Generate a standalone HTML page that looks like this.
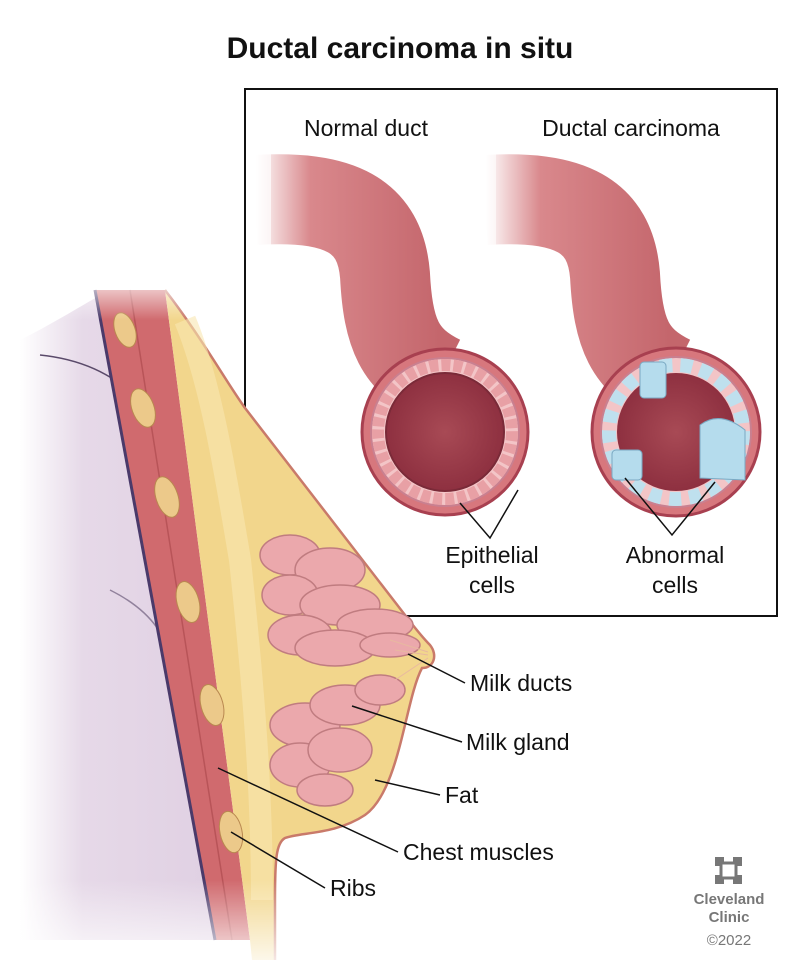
<!DOCTYPE html>
<html><head><meta charset="utf-8"><style>
body{margin:0;background:#fff;}
svg{display:block;font-family:"Liberation Sans",Arial,sans-serif;}
</style></head><body>
<svg width="800" height="978" viewBox="0 0 800 978" xmlns="http://www.w3.org/2000/svg">
<defs>
<linearGradient id="fadeL" x1="0" x2="1" y1="0" y2="0">
<stop offset="0" stop-color="#fff"/><stop offset="0.3" stop-color="#e6d9e8"/><stop offset="1" stop-color="#dfcfe2"/></linearGradient>
<linearGradient id="fadeT" x1="0" x2="0" y1="0" y2="1">
<stop offset="0" stop-color="#fff" stop-opacity="1"/><stop offset="1" stop-color="#fff" stop-opacity="0"/></linearGradient>
<linearGradient id="fadeB" x1="0" x2="0" y1="0" y2="1">
<stop offset="0" stop-color="#fff" stop-opacity="0"/><stop offset="1" stop-color="#fff" stop-opacity="1"/></linearGradient>
<linearGradient id="tubeFade" x1="0" x2="1" y1="0" y2="0">
<stop offset="0" stop-color="#fff"/><stop offset="0.3" stop-color="#d9888c"/><stop offset="1" stop-color="#c4666c"/></linearGradient>
<radialGradient id="lumen" cx="0.5" cy="0.5" r="0.5"><stop offset="0" stop-color="#a84a55"/><stop offset="1" stop-color="#8e3040"/></radialGradient>
</defs>

<text x="400" y="58" text-anchor="middle" font-size="30" font-weight="bold" fill="#111">Ductal carcinoma in situ</text>

<rect x="245" y="89" width="532" height="527" fill="#fff" stroke="#111" stroke-width="2"/>
<text x="366" y="136" text-anchor="middle" font-size="23" fill="#111">Normal duct</text>
<text x="631" y="136" text-anchor="middle" font-size="23" fill="#111">Ductal carcinoma</text>

<path d="M255 200 C340 195 380 215 385 275 C388 335 400 360 440 380" fill="none" stroke="url(#tubeFade)" stroke-width="90"/>
<path d="M485 200 C570 195 610 215 615 275 C618 335 630 360 670 380" fill="none" stroke="url(#tubeFade)" stroke-width="90"/>
<rect x="246" y="150" width="25" height="100" fill="#fff" opacity="0.7"/>
<rect x="476" y="150" width="20" height="100" fill="#fff" opacity="0.6"/>

<g>
<circle cx="445" cy="432" r="83" fill="#d7777d" stroke="#a84050" stroke-width="3"/>
<circle cx="445" cy="432" r="74" fill="#f3c5c7" stroke="#c98090" stroke-width="2"/>
<circle cx="445" cy="432" r="67" fill="none" stroke="#e8a0a5" stroke-width="12" stroke-dasharray="9 3"/>
<circle cx="445" cy="432" r="59" fill="url(#lumen)" stroke="#7a2a38" stroke-width="2"/>
</g>
<g>
<circle cx="676" cy="432" r="84" fill="#d7777d" stroke="#a84050" stroke-width="3"/>
<circle cx="676" cy="432" r="75" fill="#f3c5c7" stroke="#c98090" stroke-width="2"/>
<circle cx="676" cy="432" r="67" fill="none" stroke="#bfe0ee" stroke-width="14" stroke-dasharray="12 8"/>
<circle cx="676" cy="432" r="59" fill="url(#lumen)"/>
<g fill="#b5dced" stroke="#7aa9c3" stroke-width="1">
<rect x="640" y="362" width="26" height="36" rx="4"/>
<path d="M700 425 Q720 410 745 430 L745 480 L700 478 Z"/>
<rect x="612" y="450" width="30" height="30" rx="4"/>
</g>
</g>
<g stroke="#111" stroke-width="1.5" fill="none">
<path d="M460 503 L490 538 L518 490"/>
<path d="M625 478 L672 535 L715 482"/>
</g>
<g font-size="23" fill="#111" text-anchor="middle">
<text x="492" y="563">Epithelial</text><text x="492" y="593">cells</text>
<text x="675" y="563">Abnormal</text><text x="675" y="593">cells</text>
</g>

<path d="M20 340 C60 320 90 300 110 290 L230 940 L20 940 Z" fill="url(#fadeL)"/>
<path d="M40 355 C90 360 115 380 130 390" stroke="#5a4a6a" stroke-width="1.5" fill="none"/>
<path d="M110 590 C150 610 175 640 170 680 C168 720 185 730 205 740" stroke="#5a4a6a" stroke-width="1.5" fill="none" opacity="0.6"/>
<path d="M95 290 L165 290 L250 940 L215 940 Z" fill="#d06a6e"/>
<path d="M95 290 L215 940" stroke="#4a3a6a" stroke-width="3" fill="none"/>
<path d="M130 290 L232 940" stroke="#b85458" stroke-width="1.5" fill="none"/>
<path d="M165 290 C200 335 225 380 245 408 L405 615 C418 632 425 640 430 645 C438 655 434 668 422 668 C405 700 400 790 365 815 C335 835 300 832 285 838 C276 843 275 860 275 900 L275 960 L252 960 L250 940 Z" fill="#f2d68c"/>
<path d="M165 290 C200 335 225 380 245 408 L405 615 C418 632 425 640 430 645 C438 655 434 668 422 668 C405 700 400 790 365 815 C335 835 300 832 285 838 C276 843 275 860 275 900 L275 960" fill="none" stroke="#c97a6a" stroke-width="2.5"/>
<path d="M185 320 C210 380 225 470 240 560 C255 700 262 800 262 900" stroke="#f8e6b0" stroke-width="22" fill="none" opacity="0.6"/>
<g fill="#eba8ac" stroke="#c07c80" stroke-width="1.5">
<ellipse cx="290" cy="555" rx="30" ry="20"/><ellipse cx="330" cy="570" rx="35" ry="22"/><ellipse cx="290" cy="595" rx="28" ry="20"/>
<ellipse cx="340" cy="605" rx="40" ry="20"/><ellipse cx="375" cy="625" rx="38" ry="16"/><ellipse cx="300" cy="635" rx="32" ry="20"/>
<ellipse cx="335" cy="648" rx="40" ry="18"/><ellipse cx="390" cy="645" rx="30" ry="12"/>
<ellipse cx="305" cy="725" rx="35" ry="22"/><ellipse cx="345" cy="705" rx="35" ry="20"/><ellipse cx="380" cy="690" rx="25" ry="15"/>
<ellipse cx="300" cy="765" rx="30" ry="22"/><ellipse cx="340" cy="750" rx="32" ry="22"/><ellipse cx="325" cy="790" rx="28" ry="16"/>
</g>
<g stroke="#e8b8a0" stroke-width="1" fill="none">
<path d="M390 640 L428 652 M395 650 L428 655 M395 680 L428 658"/>
</g>
<g fill="#ecc98a" stroke="#b98850" stroke-width="1">
<ellipse cx="125" cy="330" rx="10" ry="18" transform="rotate(-20 125 330)"/>
<ellipse cx="143" cy="408" rx="11" ry="20" transform="rotate(-20 143 408)"/>
<ellipse cx="167" cy="497" rx="11" ry="21" transform="rotate(-18 167 497)"/>
<ellipse cx="188" cy="602" rx="11" ry="21" transform="rotate(-15 188 602)"/>
<ellipse cx="212" cy="705" rx="11" ry="21" transform="rotate(-15 212 705)"/>
<ellipse cx="231" cy="832" rx="11" ry="21" transform="rotate(-12 231 832)"/>
</g>
<rect x="0" y="270" width="243" height="50" fill="url(#fadeT)"/>
<rect x="0" y="880" width="300" height="98" fill="url(#fadeB)"/>

<g stroke="#111" stroke-width="1.5" fill="none">
<path d="M408 654 L465 683"/>
<path d="M352 706 L462 742"/>
<path d="M375 780 L440 795"/>
<path d="M218 768 L398 852"/>
<path d="M231 832 L325 888"/>
</g>
<g font-size="23" fill="#111">
<text x="470" y="691">Milk ducts</text>
<text x="466" y="750">Milk gland</text>
<text x="445" y="803">Fat</text>
<text x="403" y="860">Chest muscles</text>
<text x="330" y="896">Ribs</text>
</g>

<g fill="#777">
<rect x="715" y="857" width="9" height="9"/><rect x="733" y="857" width="9" height="9"/><rect x="715" y="875" width="9" height="9"/><rect x="733" y="875" width="9" height="9"/>
<rect x="721" y="863" width="15" height="15" fill="#fff" stroke="#777" stroke-width="3"/>
</g>
<g font-size="15" fill="#777" text-anchor="middle" font-weight="bold">
<text x="729" y="904">Cleveland</text><text x="729" y="922">Clinic</text>
<text x="729" y="945" font-weight="normal">©2022</text>
</g>
</svg>
</body></html>
